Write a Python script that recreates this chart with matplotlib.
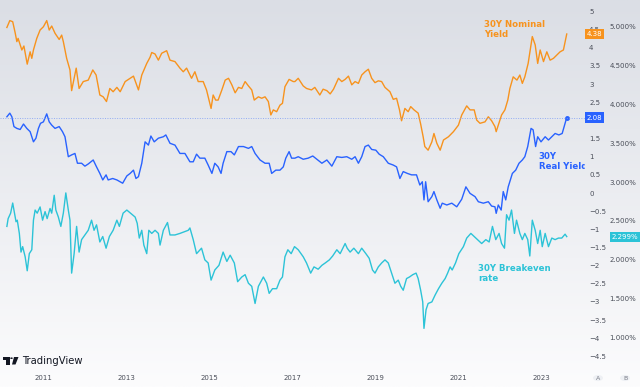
import numpy as np
import matplotlib
matplotlib.use("Agg")
import matplotlib.pyplot as plt
from matplotlib import transforms
from matplotlib.patches import Circle, Polygon, Rectangle

# 30Y nominal Treasury yield (left price scale "A")
nominal_t = [2010.13, 2010.20, 2010.27, 2010.33, 2010.37, 2010.40, 2010.49, 2010.54, 2010.62, 2010.69,
             2010.73, 2010.77, 2010.85, 2010.93, 2011.01, 2011.09, 2011.15, 2011.21, 2011.29, 2011.39,
             2011.45, 2011.49, 2011.57, 2011.65, 2011.69, 2011.80, 2011.87, 2011.97, 2012.09, 2012.20,
             2012.28, 2012.37, 2012.45, 2012.53, 2012.61, 2012.69, 2012.78, 2012.86, 2012.98, 2013.10,
             2013.18, 2013.30, 2013.38, 2013.50, 2013.58, 2013.62, 2013.70, 2013.78, 2013.86, 2013.98,
             2014.06, 2014.18, 2014.30, 2014.38, 2014.46, 2014.58, 2014.66, 2014.74, 2014.86, 2014.94,
             2015.00, 2015.05, 2015.10, 2015.16, 2015.22, 2015.31, 2015.39, 2015.47, 2015.55, 2015.63,
             2015.71, 2015.79, 2015.87, 2015.95, 2016.03, 2016.09, 2016.19, 2016.27, 2016.35, 2016.43,
             2016.49, 2016.55, 2016.63, 2016.71, 2016.77, 2016.83, 2016.93, 2017.03, 2017.07, 2017.15,
             2017.27, 2017.35, 2017.47, 2017.55, 2017.67, 2017.75, 2017.84, 2017.92, 2018.00, 2018.12,
             2018.20, 2018.28, 2018.36, 2018.44, 2018.52, 2018.60, 2018.68, 2018.76, 2018.84, 2018.92,
             2019.00, 2019.08, 2019.16, 2019.24, 2019.36, 2019.44, 2019.52, 2019.59, 2019.64, 2019.72,
             2019.80, 2019.86, 2019.94, 2020.04, 2020.10, 2020.16, 2020.20, 2020.28, 2020.37, 2020.42,
             2020.49, 2020.57, 2020.65, 2020.77, 2020.89, 2021.01, 2021.09, 2021.21, 2021.29, 2021.39,
             2021.45, 2021.53, 2021.65, 2021.73, 2021.81, 2021.89, 2021.92, 2021.97, 2022.05, 2022.13,
             2022.20, 2022.25, 2022.33, 2022.42, 2022.49, 2022.55, 2022.61, 2022.69, 2022.79, 2022.86,
             2022.92, 2022.98, 2023.06, 2023.14, 2023.22, 2023.30, 2023.38, 2023.46, 2023.54, 2023.62]
nominal = [4.56, 4.75, 4.72, 4.41, 4.17, 4.26, 3.94, 4.05, 3.55, 3.89,
           3.71, 3.94, 4.26, 4.49, 4.58, 4.75, 4.49, 4.60, 4.40, 4.23,
           4.35, 4.17, 3.71, 3.39, 2.82, 3.44, 2.88, 3.07, 3.11, 3.39,
           3.25, 2.70, 2.65, 2.52, 2.88, 2.79, 2.91, 2.79, 3.07, 3.16,
           3.22, 2.84, 3.25, 3.57, 3.74, 3.87, 3.83, 3.66, 3.85, 3.92,
           3.66, 3.62, 3.44, 3.34, 3.44, 3.16, 3.34, 3.07, 3.07, 2.84,
           2.56, 2.33, 2.70, 2.56, 2.56, 2.84, 3.11, 3.16, 2.98, 2.76,
           2.91, 2.88, 3.07, 2.95, 2.84, 2.56, 2.65, 2.61, 2.65, 2.52,
           2.15, 2.29, 2.24, 2.42, 2.47, 2.93, 3.13, 3.07, 3.07, 3.16,
           2.95, 2.88, 2.84, 2.91, 2.70, 2.86, 2.82, 2.73, 2.86, 3.16,
           3.07, 3.13, 3.22, 2.98, 3.07, 3.02, 3.25, 3.34, 3.41, 3.16,
           3.04, 3.09, 3.07, 2.91, 2.79, 2.58, 2.61, 2.29, 1.99, 2.33,
           2.24, 2.38, 2.29, 2.20, 1.90, 1.55, 1.28, 1.18, 1.41, 1.64,
           1.37, 1.18, 1.46, 1.55, 1.69, 1.87, 2.15, 2.40, 2.29, 2.29,
           2.01, 1.92, 1.96, 2.10, 1.99, 1.83, 1.69, 1.87, 2.15, 2.29,
           2.56, 2.88, 3.20, 3.11, 3.25, 3.02, 3.20, 3.57, 4.31, 4.08,
           3.57, 3.94, 3.62, 3.89, 3.66, 3.71, 3.80, 3.89, 3.94, 4.38]

# 30Y real (TIPS) yield (left price scale "A")
real_t = [2010.13, 2010.20, 2010.25, 2010.30, 2010.37, 2010.45, 2010.53, 2010.61, 2010.69, 2010.77,
          2010.83, 2010.89, 2010.94, 2011.01, 2011.09, 2011.15, 2011.21, 2011.29, 2011.39, 2011.47,
          2011.53, 2011.61, 2011.69, 2011.77, 2011.83, 2011.93, 2012.01, 2012.09, 2012.21, 2012.29,
          2012.37, 2012.44, 2012.52, 2012.57, 2012.68, 2012.78, 2012.86, 2012.92, 2013.02, 2013.10,
          2013.18, 2013.24, 2013.30, 2013.38, 2013.46, 2013.54, 2013.60, 2013.68, 2013.78, 2013.90,
          2013.96, 2014.06, 2014.18, 2014.30, 2014.42, 2014.54, 2014.62, 2014.70, 2014.78, 2014.90,
          2014.98, 2015.07, 2015.14, 2015.22, 2015.29, 2015.34, 2015.43, 2015.53, 2015.61, 2015.71,
          2015.83, 2015.95, 2016.03, 2016.11, 2016.23, 2016.35, 2016.45, 2016.51, 2016.61, 2016.71,
          2016.79, 2016.85, 2016.93, 2016.99, 2017.07, 2017.15, 2017.27, 2017.39, 2017.50, 2017.60,
          2017.72, 2017.84, 2017.96, 2018.08, 2018.20, 2018.32, 2018.44, 2018.52, 2018.60, 2018.68,
          2018.76, 2018.84, 2018.92, 2019.02, 2019.10, 2019.20, 2019.32, 2019.44, 2019.52, 2019.60,
          2019.68, 2019.78, 2019.88, 2020.00, 2020.08, 2020.14, 2020.18, 2020.22, 2020.28, 2020.37,
          2020.42, 2020.49, 2020.57, 2020.62, 2020.73, 2020.85, 2020.97, 2021.09, 2021.19, 2021.29,
          2021.41, 2021.49, 2021.61, 2021.73, 2021.81, 2021.89, 2021.92, 2021.97, 2022.04, 2022.09,
          2022.15, 2022.21, 2022.31, 2022.39, 2022.47, 2022.55, 2022.61, 2022.68, 2022.76, 2022.81,
          2022.87, 2022.92, 2023.00, 2023.10, 2023.18, 2023.26, 2023.34, 2023.43, 2023.51, 2023.62]
real = [2.10, 2.20, 2.10, 1.83, 1.78, 1.75, 1.90, 1.78, 1.69, 1.41,
        1.51, 1.78, 1.92, 1.96, 2.18, 1.96, 1.87, 1.78, 1.83, 1.69,
        1.55, 1.00, 1.05, 1.09, 0.82, 0.82, 0.74, 0.80, 0.91, 0.72,
        0.54, 0.36, 0.50, 0.36, 0.40, 0.36, 0.31, 0.27, 0.47, 0.54,
        0.63, 0.40, 0.45, 0.82, 1.41, 1.32, 1.57, 1.41, 1.51, 1.55,
        1.60, 1.37, 1.32, 1.09, 1.09, 0.86, 0.86, 1.07, 0.96, 0.96,
        0.77, 0.54, 0.82, 0.72, 0.54, 0.82, 1.14, 1.14, 1.05, 1.28,
        1.28, 1.23, 1.28, 1.09, 0.91, 0.82, 0.82, 0.54, 0.63, 0.63,
        0.72, 0.96, 1.14, 0.96, 0.96, 1.00, 0.93, 0.96, 1.02, 0.93,
        0.82, 0.91, 0.74, 1.00, 0.98, 1.00, 0.93, 1.00, 0.82, 1.00,
        1.28, 1.32, 1.20, 1.18, 1.07, 1.00, 0.82, 0.77, 0.72, 0.40,
        0.59, 0.54, 0.50, 0.50, 0.22, 0.31, -0.19, 0.31, -0.24, -0.10,
        0.04, -0.19, -0.42, -0.28, -0.33, -0.28, -0.38, -0.17, 0.17, -0.01,
        -0.10, -0.24, -0.28, -0.24, -0.36, -0.38, -0.56, -0.33, -0.47, 0.04,
        -0.19, 0.17, 0.54, 0.63, 0.82, 0.91, 1.00, 1.28, 1.78, 1.74,
        1.28, 1.55, 1.41, 1.55, 1.46, 1.55, 1.64, 1.60, 1.64, 2.08]

# 30Y breakeven inflation rate, % (right price scale "B")
breakeven_t = [2010.13, 2010.16, 2010.22, 2010.27, 2010.30, 2010.35, 2010.38, 2010.43, 2010.47, 2010.51,
               2010.57, 2010.62, 2010.67, 2010.73, 2010.77, 2010.81, 2010.86, 2010.93, 2010.99, 2011.05,
               2011.10, 2011.17, 2011.21, 2011.27, 2011.31, 2011.37, 2011.43, 2011.49, 2011.55, 2011.61,
               2011.65, 2011.69, 2011.75, 2011.81, 2011.87, 2011.93, 2012.01, 2012.09, 2012.17, 2012.23,
               2012.29, 2012.37, 2012.44, 2012.52, 2012.60, 2012.69, 2012.78, 2012.84, 2012.93, 2013.02,
               2013.11, 2013.22, 2013.27, 2013.32, 2013.38, 2013.43, 2013.50, 2013.55, 2013.62, 2013.70,
               2013.78, 2013.82, 2013.90, 2014.00, 2014.06, 2014.18, 2014.30, 2014.40, 2014.50, 2014.54,
               2014.62, 2014.70, 2014.82, 2014.90, 2014.98, 2015.05, 2015.14, 2015.24, 2015.34, 2015.43,
               2015.51, 2015.61, 2015.69, 2015.79, 2015.87, 2015.95, 2016.03, 2016.11, 2016.19, 2016.31,
               2016.39, 2016.45, 2016.53, 2016.63, 2016.71, 2016.77, 2016.83, 2016.90, 2016.98, 2017.06,
               2017.15, 2017.27, 2017.35, 2017.45, 2017.53, 2017.63, 2017.72, 2017.80, 2017.90, 2017.98,
               2018.08, 2018.16, 2018.28, 2018.33, 2018.40, 2018.49, 2018.60, 2018.68, 2018.78, 2018.86,
               2018.94, 2019.00, 2019.08, 2019.16, 2019.24, 2019.32, 2019.40, 2019.48, 2019.56, 2019.62,
               2019.68, 2019.76, 2019.83, 2019.91, 2019.99, 2020.04, 2020.10, 2020.15, 2020.18, 2020.23,
               2020.28, 2020.37, 2020.45, 2020.53, 2020.61, 2020.69, 2020.75, 2020.81, 2020.86, 2020.94,
               2021.02, 2021.13, 2021.21, 2021.31, 2021.39, 2021.47, 2021.57, 2021.67, 2021.75, 2021.83,
               2021.91, 2021.99, 2022.05, 2022.12, 2022.17, 2022.23, 2022.29, 2022.36, 2022.41, 2022.49,
               2022.55, 2022.61, 2022.68, 2022.73, 2022.79, 2022.86, 2022.92, 2022.98, 2023.03, 2023.10,
               2023.18, 2023.26, 2023.34, 2023.42, 2023.50, 2023.58, 2023.62]
breakeven = [2.43, 2.53, 2.60, 2.73, 2.64, 2.49, 2.51, 2.34, 2.10, 2.17,
             2.04, 1.86, 2.08, 2.13, 2.51, 2.64, 2.60, 2.68, 2.51, 2.62,
             2.53, 2.66, 2.60, 2.83, 2.64, 2.55, 2.43, 2.60, 2.86, 2.64,
             2.51, 1.83, 2.08, 2.43, 2.10, 2.26, 2.32, 2.38, 2.51, 2.38,
             2.45, 2.23, 2.30, 2.15, 2.30, 2.38, 2.51, 2.43, 2.60, 2.64,
             2.60, 2.55, 2.47, 2.28, 2.38, 2.19, 2.08, 2.38, 2.34, 2.38,
             2.34, 2.19, 2.38, 2.48, 2.32, 2.32, 2.34, 2.36, 2.38, 2.41,
             2.26, 2.08, 2.15, 2.00, 1.96, 1.74, 1.87, 1.93, 2.10, 1.98,
             2.06, 1.96, 1.72, 1.78, 1.81, 1.70, 1.66, 1.44, 1.66, 1.78,
             1.70, 1.57, 1.63, 1.63, 1.74, 1.78, 2.04, 2.13, 2.08, 2.17,
             2.13, 2.04, 1.96, 1.83, 1.91, 1.88, 1.93, 1.96, 2.00, 2.05,
             2.13, 2.08, 2.21, 2.15, 2.10, 2.15, 2.08, 2.15, 2.08, 2.02,
             1.87, 1.83, 1.91, 1.96, 2.00, 1.96, 1.83, 1.70, 1.74, 1.66,
             1.61, 1.76, 1.78, 1.81, 1.83, 1.76, 1.61, 1.46, 1.12, 1.36,
             1.44, 1.46, 1.55, 1.63, 1.70, 1.76, 1.83, 1.91, 1.87, 1.96,
             2.08, 2.17, 2.28, 2.34, 2.30, 2.26, 2.21, 2.26, 2.23, 2.43,
             2.26, 2.34, 2.21, 2.15, 2.58, 2.51, 2.64, 2.34, 2.51, 2.34,
             2.26, 2.34, 2.26, 2.05, 2.51, 2.38, 2.21, 2.38, 2.17, 2.34,
             2.17, 2.28, 2.26, 2.28, 2.28, 2.33, 2.299]

year_ticks = [2011, 2013, 2015, 2017, 2019, 2021, 2023]
# the "2" mark of scale A sits under the real-yield badge, so it is not shown
a_ticks = [5, 4.5, 4, 3.5, 3, 2.5, 1.5, 1, 0.5, 0, -0.5, -1, -1.5, -2, -2.5, -3, -3.5, -4, -4.5]
b_ticks = [5.0, 4.5, 4.0, 3.5, 3.0, 2.5, 2.0, 1.5, 1.0]

ORANGE = "#f7931e"
BLUE = "#2962ff"
CYAN = "#2cc3d7"
TXT = "#4a4e59"

W, H = 640, 387
fig = plt.figure(figsize=(W / 100, H / 100), dpi=100)

# soft vertical gradient behind everything
bg = fig.add_axes([0, 0, 1, 1], zorder=-10)
top = np.array([219, 222, 229]) / 255
bot = np.array([252, 252, 253]) / 255
frac = np.linspace(0, 1, 256)[:, None, None]
grad = top * (1 - frac) + bot * frac
bg.imshow(np.repeat(grad, 2, axis=1), aspect="auto", extent=[0, 1, 0, 1])
bg.set_axis_off()

plot_right = 585
ax = fig.add_axes([0, 20 / H, plot_right / W, 367 / H])
ax.patch.set_alpha(0)
ax2 = ax.twinx()
ax2.patch.set_alpha(0)
for a in (ax, ax2):
    for s in a.spines.values():
        s.set_visible(False)

ax.set_xlim(2009.964, 2024.06)
ax.set_ylim(-4.793, 5.317)
ax2.set_ylim(0.624, 5.338)

ax.plot(nominal_t, nominal, color=ORANGE, lw=1.0)
ax.plot(real_t, real, color=BLUE, lw=1.0)
ax.plot(real_t[-1], real[-1], "o", color=BLUE, ms=2.5)
ax2.plot(breakeven_t, breakeven, color=CYAN, lw=1.0)

# last-price line of the real yield
ax.axhline(real[-1], color="#7d9cf5", lw=0.7, ls=(0, (1, 1.5)), alpha=0.8)

# time axis
ax.set_xticks(year_ticks)
ax.set_xticklabels([str(y) for y in year_ticks])
ax.tick_params(axis="x", length=0, pad=6, labelsize=5, labelcolor=TXT)

# price scales
ax.yaxis.tick_right()
ax.set_yticks(a_ticks)
ax.set_yticklabels([f"{v:g}".replace("-", "\u2212") for v in a_ticks])
ax.tick_params(axis="y", length=0, pad=3, labelsize=5, labelcolor=TXT)
ax2.set_yticks(b_ticks)
ax2.set_yticklabels([f"{v:.3f}%" for v in b_ticks])
ax2.tick_params(axis="y", length=0, pad=37, labelsize=5, labelcolor=TXT)
for lab in ax2.get_yticklabels():
    lab.set_horizontalalignment("right")

# last value badges on the scales
ta = transforms.blended_transform_factory(ax.transAxes, ax.transData)
tb = transforms.blended_transform_factory(ax2.transAxes, ax2.transData)
badge = dict(fontsize=5, color="white", ha="center", va="center", zorder=5)
ax.text(594.5 / plot_right, nominal[-1], f"{nominal[-1]:.2f}", transform=ta, clip_on=False,
        bbox=dict(boxstyle="square,pad=0.3", fc=ORANGE, ec="none"), **badge)
ax.text(594.5 / plot_right, real[-1], f"{real[-1]:.2f}", transform=ta, clip_on=False,
        bbox=dict(boxstyle="square,pad=0.3", fc=BLUE, ec="none"), **badge)
ax2.text(625 / plot_right, breakeven[-1], f"{breakeven[-1]:.3f}%", transform=tb, clip_on=False,
         bbox=dict(boxstyle="square,pad=0.3", fc=CYAN, ec="none"), **badge)

# series annotations
lbl = dict(fontsize=6.2, fontweight="bold", va="top", ha="left", linespacing=1.15)
ax.text(2021.63, 4.77, "30Y Nominal\nYield", color=ORANGE, **lbl)
ax.text(2022.95, 1.13, "30Y\nReal Yield", color=BLUE, clip_on=True, **lbl)
ax2.text(2021.48, 1.95, "30Y Breakeven\nrate", color=CYAN, **lbl)

# TradingView watermark
def px(x, y):
    return (x / W, 1 - y / H)

fig.patches.append(Rectangle(px(3, 359.5), 6.5 / W, 2.5 / H, transform=fig.transFigure, fc="#131722", ec="none"))
fig.patches.append(Rectangle(px(6, 364.5), 3.5 / W, 6 / H, transform=fig.transFigure, fc="#131722", ec="none"))
fig.patches.append(Circle(px(11.5, 358.2), 1.3 / W, transform=fig.transFigure, fc="#131722", ec="none"))
fig.patches.append(Polygon([px(14, 357), px(18.5, 357), px(15.5, 364.5), px(12, 364.5)],
                           closed=True, transform=fig.transFigure, fc="#131722", ec="none"))
fig.text(22 / W, 1 - 360.5 / H, "TradingView", fontsize=7.2, color="#131722", va="center", ha="left",
         fontweight="medium")

# scale mode buttons
for cx, letter in ((598, "A"), (625, "B")):
    fig.patches.append(Circle(px(cx, 378), 5 / W, transform=fig.transFigure, fc="#eef0f4", ec="none"))
    fig.text(cx / W, 1 - 378 / H, letter, fontsize=4.5, color="#787b86", ha="center", va="center")

fig.savefig("out.png", dpi=100)
